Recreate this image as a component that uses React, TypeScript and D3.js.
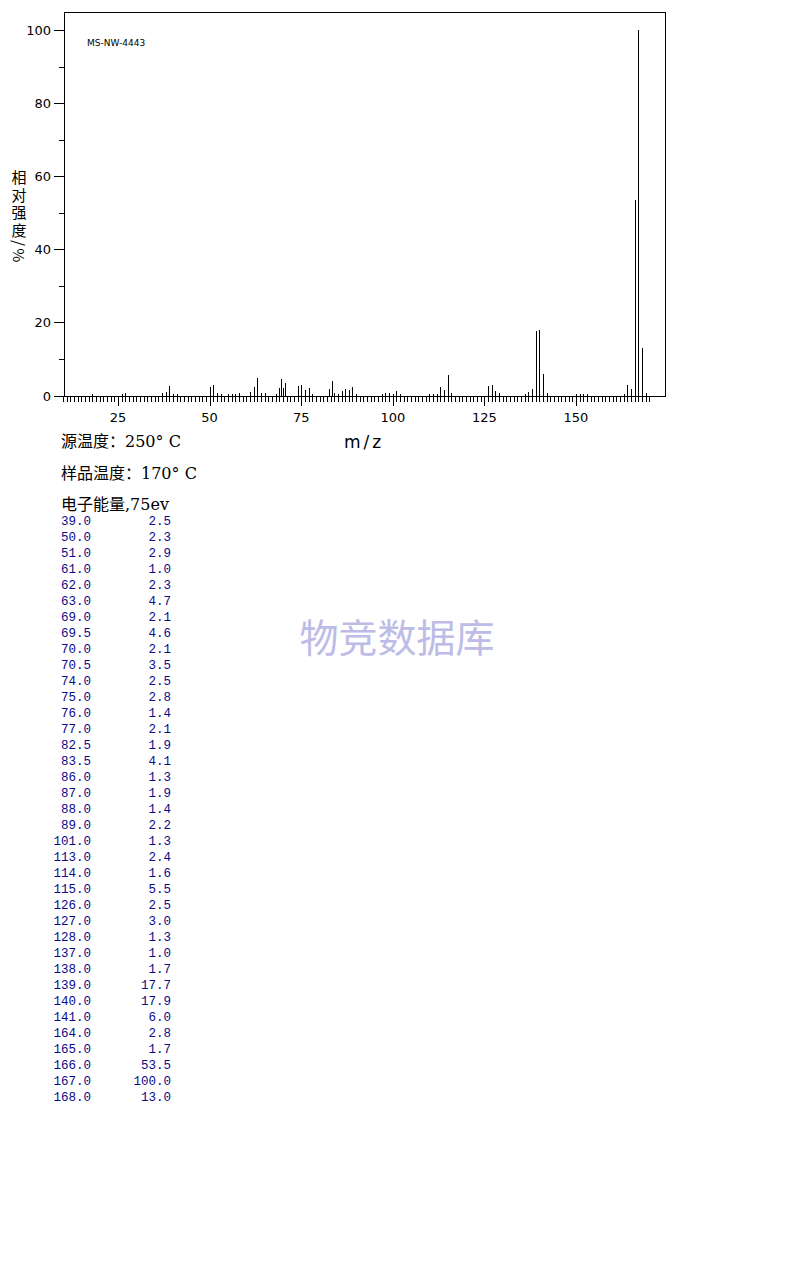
import React from "react";
import * as d3 from "d3";

// Listed peaks (m/z, relative intensity %)
const listedMz = [39.0, 50.0, 51.0, 61.0, 62.0, 63.0, 69.0, 69.5, 70.0, 70.5, 74.0, 75.0, 76.0, 77.0, 82.5, 83.5, 86.0, 87.0, 88.0, 89.0, 101.0, 113.0, 114.0, 115.0, 126.0, 127.0, 128.0, 137.0, 138.0, 139.0, 140.0, 141.0, 164.0, 165.0, 166.0, 167.0, 168.0];
const listedIntensity = [2.5, 2.3, 2.9, 1.0, 2.3, 4.7, 2.1, 4.6, 2.1, 3.5, 2.5, 2.8, 1.4, 2.1, 1.9, 4.1, 1.3, 1.9, 1.4, 2.2, 1.3, 2.4, 1.6, 5.5, 2.5, 3.0, 1.3, 1.0, 1.7, 17.7, 17.9, 6.0, 2.8, 1.7, 53.5, 100.0, 13.0];

// Minor peaks visible in the spectrum but not listed (estimated)
const minorMz = [18, 26, 27, 37, 38, 40, 41, 52, 53, 55, 56, 57, 58, 64, 65, 68, 78, 84, 85, 90, 97, 98, 99, 100, 102, 110, 111, 112, 116, 129, 136, 142, 150, 151, 152, 153, 163, 169];
const minorIntensity = [0.5, 0.4, 0.6, 0.6, 0.9, 0.3, 0.3, 0.7, 0.3, 0.3, 0.4, 0.5, 0.6, 0.6, 0.6, 0.5, 0.5, 0.6, 0.4, 0.5, 0.5, 0.8, 0.8, 0.4, 0.5, 0.4, 0.5, 0.5, 0.8, 0.6, 0.5, 0.8, 0.3, 0.3, 0.3, 0.3, 0.5, 0.8];

const yTicks = [0, 20, 40, 60, 80, 100];
const yMinorTicks = [10, 30, 50, 70, 90];
const xTickLabels = [25, 50, 75, 100, 125, 150];

const infoLines = ["源温度：250° C", "样品温度：170° C", "电子能量,75ev"];

export default function App() {
  const x = d3.scaleLinear().domain([25, 150]).range([118, 576]);
  const y = d3.scaleLinear().domain([0, 100]).range([395.5, 30]);
  const frameL = 64, frameR = 665, frameT = 12, frameB = 396;

  const peaks = [
    ...minorMz.map((m, i) => ({ m, v: minorIntensity[i] })),
    ...listedMz.map((m, i) => ({ m, v: listedIntensity[i] })),
  ];
  const unitTicks = d3.range(10, 171);
  const px = (m: number) => Math.round(x(m)) + 0.5;

  const monoFont = "'Liberation Mono', 'DejaVu Sans Mono', monospace";
  const tickFont = "'DejaVu Sans', sans-serif";

  return (
    <svg width={786} height={1268} style={{ display: "block", position: "absolute", left: 0, top: 0 }} viewBox="0 0 786 1268">
      <rect x={0} y={0} width={794} height={1276} fill="#fff" />
      {/* frame */}
      <rect x={frameL + 0.5} y={frameT + 0.5} width={frameR - frameL} height={frameB - frameT} fill="none" stroke="#000" strokeWidth={1} shapeRendering="crispEdges" />
      {/* y axis ticks */}
      {yTicks.map((t) => (
        <g key={"y" + t}>
          <line x1={frameL - 10} x2={frameL} y1={Math.round(y(t)) + 0.5} y2={Math.round(y(t)) + 0.5} stroke="#000" shapeRendering="crispEdges" />
          <text x={51} y={Math.round(y(t)) + 5} textAnchor="end" fontFamily={tickFont} fontSize={13} fill="#000">{t}</text>
        </g>
      ))}
      {yMinorTicks.map((t) => (
        <line key={"ym" + t} x1={frameL - 5} x2={frameL} y1={Math.round(y(t)) + 0.5} y2={Math.round(y(t)) + 0.5} stroke="#000" shapeRendering="crispEdges" />
      ))}
      {/* x axis unit ticks */}
      {unitTicks.map((m) => (
        <line key={"xt" + m} x1={px(m)} x2={px(m)} y1={frameB} y2={frameB + (m % 25 === 0 ? 10 : 6)} stroke="#000" shapeRendering="crispEdges" />
      ))}
      {xTickLabels.map((t) => (
        <text key={"xl" + t} x={x(t)} y={422} textAnchor="middle" fontFamily={tickFont} fontSize={13} fill="#000">{t}</text>
      ))}
      {/* peaks */}
      {peaks.map((p, i) => (
        <line key={"p" + i} x1={px(p.m)} x2={px(p.m)} y1={frameB} y2={y(p.v)} stroke="#000" strokeWidth={1} shapeRendering="crispEdges" />
      ))}
      {/* sample id */}
      <text x={87} y={46} fontFamily={tickFont} fontSize={9} fill="#000">MS-NW-4443</text>
      {/* y axis title: vertical writing, CJK upright, latin rotated */}
      <text x={19} y={170} fontFamily="'Noto Sans CJK SC', sans-serif" fontSize={15} letterSpacing={2.5} fill="#000" style={{ writingMode: "vertical-rl" as any }}>相对强度/%</text>
      {/* x axis title */}
      <text x={364} y={448} textAnchor="middle" fontFamily={tickFont} fontSize={17} letterSpacing={3} fill="#000">m/z</text>
      {/* info lines */}
      {infoLines.map((s, i) => (
        <text key={s} x={61} y={447 + i * 31.5} fontFamily="'DejaVu Serif', 'Noto Sans CJK SC', serif" fontSize={16} fill="#000">{s}</text>
      ))}
      {/* table */}
      {listedMz.map((m, i) => (
        <g key={"row" + i} fontFamily={monoFont} fontSize={12.5} fill="#0a0a8a">
          <text x={91} y={525 + i * 16} textAnchor="end">{m.toFixed(1)}</text>
          <text x={171} y={525 + i * 16} textAnchor="end">{listedIntensity[i].toFixed(1)}</text>
        </g>
      ))}
      {/* watermark */}
      <text x={397} y={652} textAnchor="middle" fontFamily="'Noto Sans CJK SC', sans-serif" fontSize={39} fill="#bcbce6">物竞数据库</text>
    </svg>
  );
}
